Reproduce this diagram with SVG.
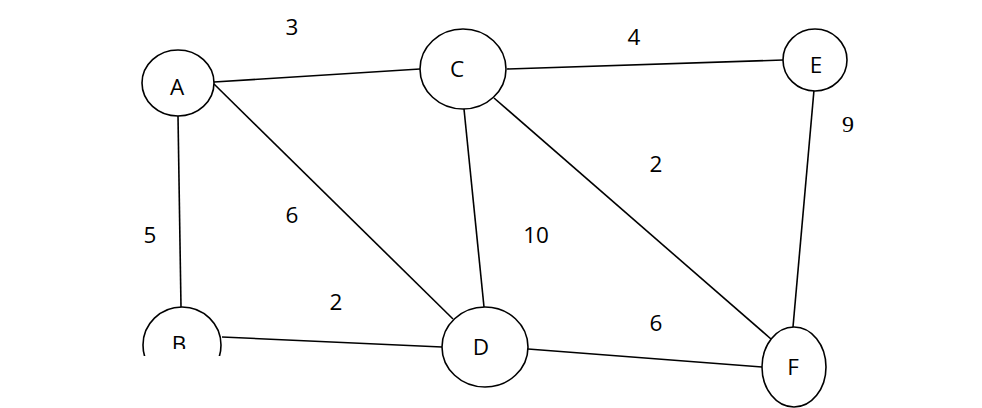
<svg xmlns="http://www.w3.org/2000/svg" width="982" height="408" viewBox="0 0 982 408">
<style>
.n{fill:#fff;stroke:#000;stroke-width:1.6}
.e{stroke:#000;stroke-width:1.6;fill:none}
.t{font-family:"Open Sans","Liberation Sans",Arial,sans-serif;font-size:22.5px;fill:#000;text-anchor:middle}
.s{font-family:"Liberation Serif","Times New Roman",serif;font-size:24px;fill:#000;text-anchor:middle}
</style>
<defs>
<clipPath id="cb"><rect x="0" y="0" width="982" height="356"/></clipPath>
<clipPath id="cbt"><rect x="0" y="0" width="982" height="349"/></clipPath>
</defs>
<rect width="982" height="408" fill="#fff"/>
<g id="edges">
<line class="e" x1="214" y1="82" x2="420" y2="69"/>
<line class="e" x1="507" y1="69" x2="783" y2="60"/>
<line class="e" x1="178" y1="116" x2="181" y2="307"/>
<line class="e" x1="214" y1="84" x2="453" y2="319"/>
<line class="e" x1="464" y1="109" x2="484" y2="307"/>
<line class="e" x1="494" y1="98" x2="771" y2="339"/>
<line class="e" x1="814" y1="90" x2="793" y2="327"/>
<line class="e" x1="222" y1="337" x2="442" y2="347"/>
<line class="e" x1="528" y1="349" x2="762" y2="367"/>
</g>
<g id="edge-labels">
<text class="t" x="292" y="35">3</text>
<text class="t" x="634" y="45">4</text>
<text class="s" x="848" y="132">9</text>
<text class="t" x="150" y="243">5</text>
<text class="t" x="292" y="223">6</text>
<text class="t" x="336" y="310">2</text>
<text class="t" x="536" y="243">10</text>
<text class="t" x="656" y="172">2</text>
<text class="t" x="656" y="331">6</text>
</g>
<g id="A"><ellipse class="n" cx="178" cy="83" rx="36" ry="33"/><text class="t" x="177" y="95">A</text></g>
<g id="C"><ellipse class="n" cx="463" cy="69" rx="43" ry="40"/><text class="t" x="457" y="77">C</text></g>
<g id="E"><ellipse class="n" cx="815" cy="60" rx="32" ry="31"/><text class="t" x="816" y="73">E</text></g>
<g id="B" clip-path="url(#cb)"><ellipse class="n" cx="182" cy="345" rx="39" ry="38"/><text class="t" x="179" y="352" clip-path="url(#cbt)">B</text></g>
<g id="D"><ellipse class="n" cx="485" cy="347" rx="43" ry="40"/><text class="t" x="481" y="355">D</text></g>
<g id="F"><ellipse class="n" cx="794" cy="367" rx="32" ry="40"/><text class="t" x="793" y="375">F</text></g>
</svg>
